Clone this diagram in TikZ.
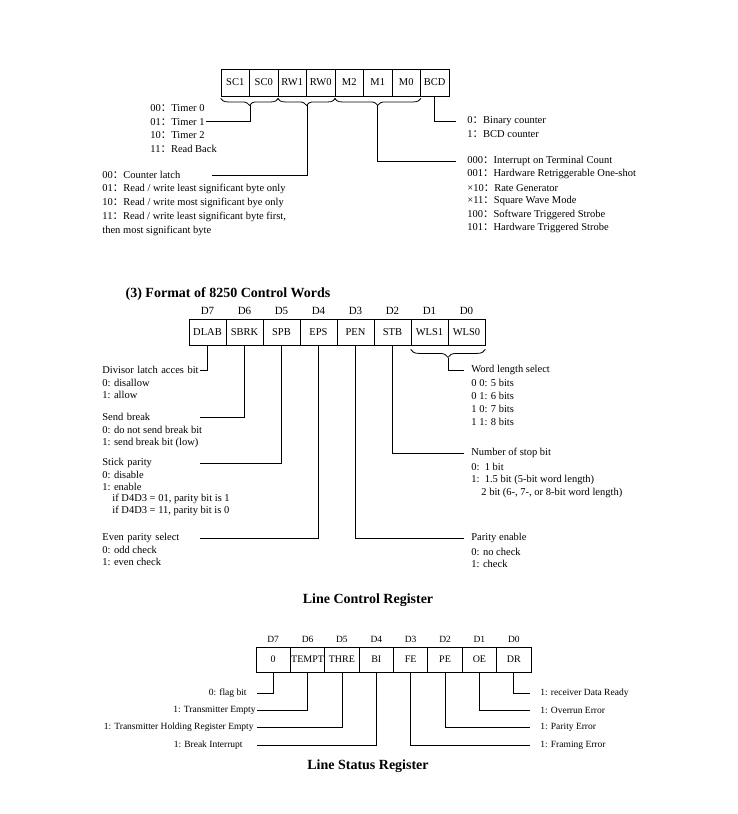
\documentclass[tikz,border=0pt]{standalone}
\usepackage{fontspec}
\setmainfont{Liberation Serif}
\newfontfamily\cjkfont{Noto Sans CJK SC}
\usepackage{tikz}
\usetikzlibrary{positioning,calc,decorations.pathreplacing}
\definecolor{ink}{HTML}{000000}
\newcommand{\wcolon}{{\cjkfont ：}}

\tikzset{
  cell/.style={draw=ink, line width=0.8pt, inner sep=0pt, font=\fontsize{10.5}{12}\selectfont},
  bitno/.style={inner sep=0pt, font=\fontsize{11}{12}\selectfont},
  desc/.style={anchor=west, inner sep=1pt, font=\fontsize{10.5}{12}\selectfont},
  lhead/.style={desc, text width=97pt, inner xsep=0pt},
  rhead/.style={desc, inner xsep=7pt},
  stat/.style={inner ysep=1pt, font=\fontsize{9.5}{11}\selectfont},
  caption/.style={inner sep=0pt, font=\fontsize{14}{16}\selectfont\bfseries},
  brace/.style={decorate, decoration={brace, mirror, amplitude=#1, raise=2pt}},
  brace/.default=7pt,
  link/.style={ink, line width=0.8pt},
}

\begin{document}
\begin{tikzpicture}[x=1pt, y=-1pt, line width=0.8pt, color=ink]
  \useasboundingbox[fill=white] (0,0) rectangle (738,814);

  % 8253 control word
  \foreach \n [count=\i] in {SC1,SC0,RW1,RW0,M2,M1,M0,BCD}
    \node[cell, minimum width=28.5, minimum height=27] (t\i) at (206.75+28.5*\i,82.5) {\n};
  \draw[brace] (t1.south west) -- (t2.south east);
  \draw[brace] (t3.south west) -- (t4.south east);
  \draw[brace] (t5.south west) -- (t7.south east);
  \coordinate (scTip) at ($(t1.south east)+(0,9)$);
  \coordinate (rwTip) at ($(t3.south east)+(0,9)$);
  \coordinate (mTip) at ($(t6.south)+(0,9)$);

  \foreach \t [count=\i] in {00\wcolon Timer 0,01\wcolon Timer 1,10\wcolon Timer 2,11\wcolon Read Back}
    \node[desc] (tm\i) at (149,94+13.8*\i) {\t};
  \foreach \t [count=\i] in {00\wcolon Counter latch,
      01\wcolon Read / write least significant byte only,
      10\wcolon Read / write most significant bye only,
      {11\wcolon Read / write least significant byte first,},
      then most significant byte}
    \node[desc] (cl\i) at (101,161+14*\i) {\t};
  \foreach \t [count=\i] in {0\wcolon Binary counter,1\wcolon BCD counter}
    \node[desc] (bc\i) at (466,107.5+13.5*\i) {\t};
  \foreach \t [count=\i] in {000\wcolon Interrupt on Terminal Count,
      001\wcolon Hardware Retriggerable One-shot,
      ×10\wcolon Rate Generator,
      ×11\wcolon Square Wave Mode,
      100\wcolon Software Triggered Strobe,
      101\wcolon Hardware Triggered Strobe}
    \node[desc] (md\i) at (466,147.6+13.4*\i) {\t};

  \coordinate (rwEnd) at (212,175);
  \draw[link] (scTip) |- (tm2.east);
  \draw[link] (rwTip) |- (rwEnd);
  \draw[link] (t8.south) |- ([xshift=-10]bc1.west);
  \draw[link] (mTip) |- ([xshift=-10]md1.west);

  % 8250 line control register
  \node[caption] (fmt) at (228,294) {(3) Format of 8250 Control Words};
  \foreach \n [count=\i] in {DLAB,SBRK,SPB,EPS,PEN,STB,WLS1,WLS0}{
    \pgfmathtruncatemacro{\b}{8-\i}
    \node[cell, minimum width=37, minimum height=26] (c\i) at (170.5+37*\i,332) {\n};
    \node[bitno, above=4pt of c\i] (cd\i) {D\b};
  }
  \draw[decorate, decoration={brace, mirror, amplitude=8pt, raise=4pt}]
    (c7.south west) -- (c8.south east);
  \coordinate (wlTip) at ($(c7.south east)+(0,13)$);

  \node[lhead] (dla) at (102,370) {Divisor latch acces bit};
  \node[lhead] (sbk) at (102,417) {Send break};
  \node[lhead] (spa) at (102,463) {Stick parity};
  \node[lhead] (eps) at (102,538) {Even parity select};
  \foreach \t/\yy [count=\i] in {0: disallow/383, 1: allow/395,
      0: do not send break bit/430, 1: send break bit (low)/443,
      0: disable/475, 1: enable/487, 0: odd check/550, 1: even check/562}
    \node[desc] (lb\i) at (101,\yy) {\t};
  \node[desc] (if1) at (111,499) {if D4D3 = 01, parity bit is 1};
  \node[desc] (if2) at (111,511) {if D4D3 = 11, parity bit is 0};

  \node[rhead] (wls) at (464,370) {Word length select};
  \node[rhead] (stb) at (464,453) {Number of stop bit};
  \node[rhead] (pen) at (464,538) {Parity enable};
  \foreach \t/\yy [count=\i] in {0 0: 5 bits/383, 0 1: 6 bits/396, 1 0: 7 bits/409,
      1 1: 8 bits/422, 0:\ \ 1 bit/467, 1:\ \ 1.5 bit (5-bit word length)/480,
      0: no check/552, 1: check/564}
    \node[desc] (rb\i) at (470,\yy) {\t};
  \node[desc] (sb2) at (480,493) {2 bit (6-, 7-, or 8-bit word length)};

  \draw[link] (c1.south) |- (dla.east);
  \draw[link] (c2.south) |- (sbk.east);
  \draw[link] (c3.south) |- (spa.east);
  \draw[link] (c4.south) |- (eps.east);
  \draw[link] (c5.south) |- (pen.west);
  \draw[link] (c6.south) |- (stb.west);
  \draw[link] (wlTip) |- (wls.west);

  \node[caption] (lcr) at (368,600) {Line Control Register};

  % 8250 line status register
  \foreach \n [count=\i] in {0,TEMPT,THRE,BI,FE,PE,OE,DR}{
    \pgfmathtruncatemacro{\b}{8-\i}
    \node[cell, minimum width=34.375, minimum height=25, font=\fontsize{10}{12}\selectfont]
      (s\i) at (238.8125+34.375*\i,659.5) {\n};
    \node[bitno, font=\fontsize{9.5}{11}\selectfont, above=4pt of s\i] (sd\i) {D\b};
  }
  \foreach \t/\yy/\g [count=\i] in {0: flag bit/693/10, 1: Transmitter Empty/710/1,
      1: Transmitter Holding Register Empty/727/3, 1: Break Interrupt/745/14}
    \node[stat, anchor=east, inner xsep=\g] (ls\i) at (257,\yy) {\t};
  \foreach \t/\yy [count=\i] in {1: Framing Error/745, 1: Parity Error/727,
      1: Overrun Error/710, 1: receiver Data Ready/693}
    \node[stat, anchor=west, inner xsep=10] (rs\i) at (530,\yy) {\t};
  \foreach \i in {1,...,4}
    \draw[link] (s\i.south) |- (ls\i.east);
  \foreach \i [evaluate=\i as \j using int(\i+4)] in {1,...,4}
    \draw[link] (s\j.south) |- (rs\i.west);

  \node[caption] (lsr) at (368,766) {Line Status Register};
\end{tikzpicture}
\end{document}
